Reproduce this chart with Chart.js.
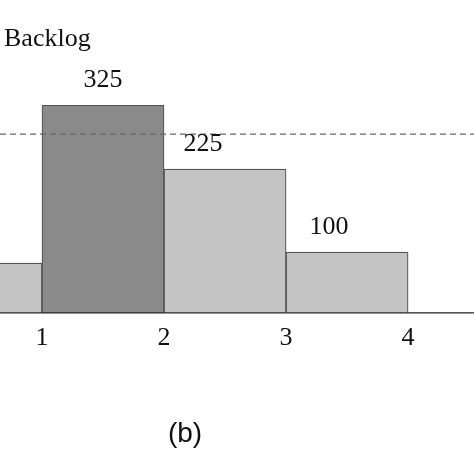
<!DOCTYPE html>
<html><head><meta charset="utf-8">
<script src="https://cdn.jsdelivr.net/npm/chart.js@4"></script>
<style>html,body{margin:0;padding:0;background:#fff}#w{width:474px;height:474px}</style>
</head><body><div id="w"><canvas id="c"></canvas></div>
<script>
const periods=[0.5,1.5,2.5,3.5];
const backlog=[78,325,225,95];
const barLabels=["","325","225","100"];
const barColors=["#c4c4c4","#8a8a8a","#c4c4c4","#c4c4c4"];
const xTicks=[1,2,3,4];
const capacityLine=280;
const serif="'Liberation Serif', 'DejaVu Serif', serif";
const overlay={id:'ov',afterDatasetsDraw(ch){
 const {ctx,scales:{x,y},chartArea:a}=ch;
 ctx.save();
 ctx.strokeStyle='#666';ctx.lineWidth=1.2;ctx.setLineDash([6,4]);
 const yy=y.getPixelForValue(capacityLine);
 ctx.beginPath();ctx.moveTo(a.left,yy);ctx.lineTo(a.right,yy);ctx.stroke();
 ctx.setLineDash([]);
 ctx.fillStyle='#111';ctx.font='26px '+serif;ctx.textAlign='center';ctx.textBaseline='bottom';
 periods.forEach((p,i)=>{if(barLabels[i])ctx.fillText(barLabels[i],x.getPixelForValue(p)+(i===2?-22:i===3?-18:0),y.getPixelForValue(backlog[i])-12);});
 ctx.textAlign='left';ctx.fillText('Backlog',4,52);
 ctx.font="28px 'Liberation Sans', Arial, sans-serif";ctx.textAlign='center';
 ctx.fillText('(b)',185,448);
 ctx.strokeStyle='#222';ctx.lineWidth=1.2;
 const by=y.getPixelForValue(0);
 ctx.beginPath();ctx.moveTo(0,by);ctx.lineTo(474,by);ctx.stroke();
 ctx.restore();}};
new Chart(document.getElementById('c'),{
 type:'bar',
 data:{datasets:[{data:periods.map((p,i)=>({x:p,y:backlog[i]})),backgroundColor:barColors,borderColor:'#555',borderWidth:1.2,barPercentage:1,categoryPercentage:1}]},
 options:{responsive:true,maintainAspectRatio:false,animation:false,
  layout:{padding:{top:0,bottom:110,left:0,right:0}},
  plugins:{legend:{display:false},tooltip:{enabled:false}},
  scales:{
   x:{type:'linear',min:0.656,max:4.54,offset:false,grid:{display:false,drawTicks:false},border:{display:false},
      afterBuildTicks(s){s.ticks=xTicks.map(v=>({value:v}));},
      ticks:{color:'#111',font:{family:serif,size:26},padding:10}},
   y:{display:false,min:0,max:490}
  }},
 plugins:[overlay]});
</script></body></html>
